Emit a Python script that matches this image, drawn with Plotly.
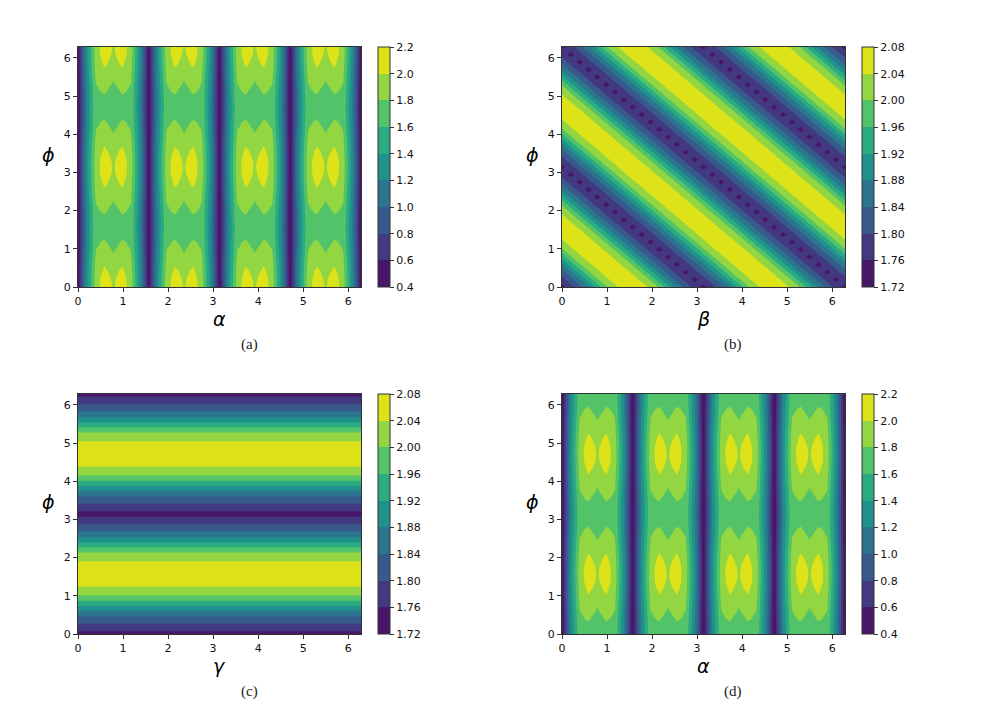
import plotly.graph_objects as go

W, H = 981, 709
PAGE_OFFSET = 8  # browser body margin around the figure
STEP_COUNT = 33
TAU = 6.283185
grid = [TAU * i / (STEP_COUNT - 1) for i in range(STEP_COUNT)]

# one repeating cell of panels (a)/(d).
# rows: alpha steps 0..4 of the grid; columns: phi steps 0..8 of the grid
alpha_cell = [
    [0.45, 0.45, 0.45, 0.45, 0.44, 0.44, 0.43, 0.43, 0.43],
    [1.30, 1.30, 1.29, 1.28, 1.26, 1.24, 1.22, 1.21, 1.20],
    [1.89, 1.885, 1.87, 1.85, 1.815, 1.795, 1.78, 1.76, 1.75],
    [2.13, 2.11, 2.05, 1.985, 1.93, 1.87, 1.815, 1.77, 1.75],
    [1.98, 1.965, 1.93, 1.88, 1.82, 1.78, 1.74, 1.71, 1.70],
]
# one period of panels (b)/(c) (grid steps 0..15)
phase_profile = [1.745, 1.785, 1.825, 1.875, 1.935, 1.995, 2.03, 2.06,
                 2.075, 2.06, 2.03, 1.995, 1.935, 1.875, 1.825, 1.785]

band_colors = ["#481769", "#433980", "#37598c", "#2c758e", "#21918c",
               "#2aab81", "#52c369", "#92d642", "#dde318"]
ticks_xy = [0, 1, 2, 3, 4, 5, 6]
ticks_wide = [0.4, 0.6, 0.8, 1.0, 1.2, 1.4, 1.6, 1.8, 2.0, 2.2]
labels_wide = ["0.4", "0.6", "0.8", "1.0", "1.2", "1.4", "1.6", "1.8", "2.0", "2.2"]
ticks_narrow = [1.72, 1.76, 1.80, 1.84, 1.88, 1.92, 1.96, 2.00, 2.04, 2.08]
labels_narrow = ["1.72", "1.76", "1.80", "1.84", "1.88", "1.92", "1.96", "2.00", "2.04", "2.08"]


def fold(i, half):
    i = i % (2 * half)
    return 2 * half - i if i > half else i


z_a = [[alpha_cell[fold(a, 4)][fold(p, 8)] for a in range(STEP_COUNT)] for p in range(STEP_COUNT)]
z_d = [[alpha_cell[fold(a, 4)][fold(p + 8, 8)] for a in range(STEP_COUNT)] for p in range(STEP_COUNT)]
z_b = [[phase_profile[(b + p) % 16] for b in range(STEP_COUNT)] for p in range(STEP_COUNT)]
z_c = [[phase_profile[p % 16] for g in range(STEP_COUNT)] for p in range(STEP_COUNT)]

contour_scale = [[0, band_colors[0]]] + [[(i + 1) / 10, c] for i, c in enumerate(band_colors)] + [[1, band_colors[-1]]]
bar_scale = []
for i, c in enumerate(band_colors):
    bar_scale += [[i / 9, c], [(i + 1) / 9, c]]

panels = [
    dict(z=z_a, x0=78, y0=47, start=0.4, end=2.2, size=0.2, tv=ticks_wide, tt=labels_wide, xl="α", cap="(a)"),
    dict(z=z_b, x0=562, y0=47, start=1.72, end=2.08, size=0.04, tv=ticks_narrow, tt=labels_narrow, xl="β", cap="(b)"),
    dict(z=z_c, x0=78, y0=394, start=1.72, end=2.08, size=0.04, tv=ticks_narrow, tt=labels_narrow, xl="γ", cap="(c)"),
    dict(z=z_d, x0=562, y0=394, start=0.4, end=2.2, size=0.2, tv=ticks_wide, tt=labels_wide, xl="α", cap="(d)"),
]
PW, PH = 283, 240
FONT = "DejaVu Sans"
DARK = "#333333"
TICK_SIZE = 11
FW, FH = W - PAGE_OFFSET, H - PAGE_OFFSET


def fx(px):
    return (px - PAGE_OFFSET) / FW


def fy(py):
    return 1 - (py - PAGE_OFFSET) / FH


fig = go.Figure()
ann = []
for n, p in enumerate(panels, start=1):
    sfx = "" if n == 1 else str(n)
    # heatmap lies under the contour; it only supplies the stepped colour bar
    fig.add_trace(go.Heatmap(
        x=grid, y=grid, z=p["z"], xaxis="x" + sfx, yaxis="y" + sfx,
        zmin=p["start"], zmax=p["end"], colorscale=bar_scale, hoverinfo="skip",
        colorbar=dict(
            x=fx(p["x0"] + 300), xanchor="left", xpad=0, ypad=0,
            y=fy(p["y0"] + PH / 2), yanchor="middle",
            lenmode="pixels", len=PH, thicknessmode="pixels", thickness=12,
            outlinecolor=DARK, outlinewidth=1, borderwidth=0,
            tickmode="array", tickvals=p["tv"], ticktext=p["tt"],
            ticks="outside", ticklen=4, tickwidth=1, tickcolor=DARK,
            tickfont=dict(family=FONT, size=TICK_SIZE, color="#111111"),
        ),
    ))
    fig.add_trace(go.Contour(
        x=grid, y=grid, z=p["z"], xaxis="x" + sfx, yaxis="y" + sfx,
        autocontour=False, colorscale=contour_scale, showscale=False,
        contours=dict(start=p["start"], end=p["end"], size=p["size"], coloring="fill", showlines=False),
        line=dict(width=0, smoothing=0), hoverinfo="skip",
    ))
    axis_common = dict(
        range=[0, TAU], tickmode="array", tickvals=ticks_xy, ticks="outside", ticklen=4, tickwidth=1,
        tickcolor=DARK, showline=True, linecolor=DARK, linewidth=1, mirror=True, showgrid=False,
        zeroline=False, tickfont=dict(family=FONT, size=TICK_SIZE, color="#111111"),
    )
    fig.layout["xaxis" + sfx] = dict(axis_common, domain=[fx(p["x0"]), fx(p["x0"] + PW)],
                                     anchor="y" + sfx)
    fig.layout["yaxis" + sfx] = dict(axis_common, domain=[fy(p["y0"] + PH), fy(p["y0"])],
                                     anchor="x" + sfx)
    cx = fx(p["x0"] + PW / 2)
    common = dict(xref="paper", yref="paper", showarrow=False, xanchor="center", yanchor="middle")
    ann.append(dict(common, text="<i>%s</i>" % p["xl"], x=cx, y=fy(p["y0"] + PH + 32),
                    font=dict(family=FONT, size=19, color="black")))
    ann.append(dict(common, text="<i>ϕ</i>", x=fx(p["x0"] - 30), y=fy(p["y0"] + 108),
                    font=dict(family=FONT, size=19, color="black")))
    ann.append(dict(common, text=p["cap"], x=fx(p["x0"] + 171), y=fy(p["y0"] + PH + 57),
                    font=dict(family="Liberation Serif", size=15, color="#222222")))

fig.update_layout(width=FW, height=FH, margin=dict(l=0, r=0, t=0, b=0, autoexpand=False), paper_bgcolor="white",
                  plot_bgcolor="white", annotations=ann, showlegend=False)
fig.write_html("out.html")
